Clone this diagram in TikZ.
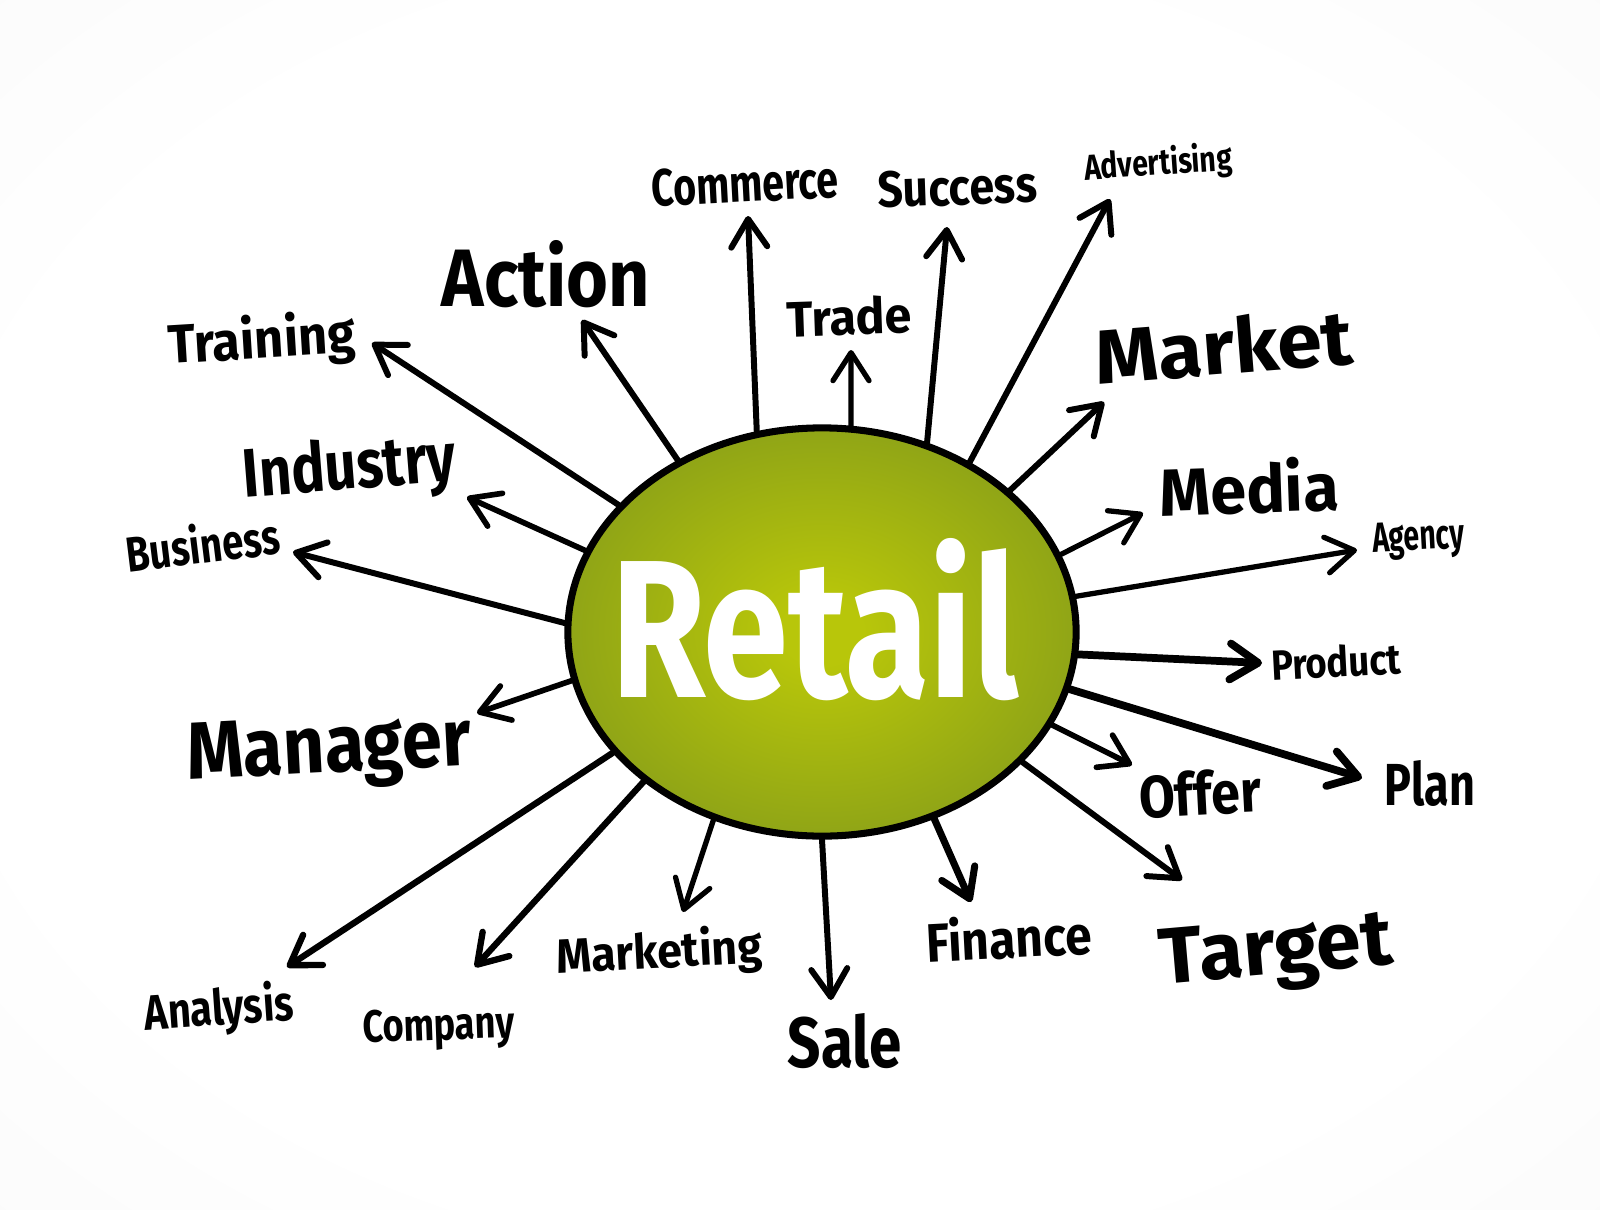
\documentclass[tikz,border=0pt]{standalone}
\usepackage{fontspec}
\setmainfont{Fira Sans}
\usepackage{graphicx}
\usetikzlibrary{arrows.meta,shapes.geometric}
\tikzset{>={Straight Barb[length=2.8mm,width=3.6mm,line cap=round,line join=round]}}
\definecolor{hubA}{RGB}{184,198,10}
\definecolor{hubB}{RGB}{138,160,24}
\definecolor{hubC}{RGB}{90,114,32}
\definecolor{paper}{RGB}{244,244,244}
\pgfdeclareradialshading{hubglow}{\pgfpoint{0bp}{0bp}}{color(0bp)=(hubA); color(4bp)=(hubA);
  color(28bp)=(hubB); color(50bp)=(hubC)}
\pgfdeclareradialshading{paperglow}{\pgfpoint{0bp}{0bp}}{color(0bp)=(white); color(26bp)=(white);
  color(55bp)=(paper); color(75bp)=(paper)}
\tikzstyle{hub}=[ellipse,draw=black,line width=2pt,shading=hubglow,
  minimum width=5.08cm,minimum height=4.08cm,inner sep=0]
\tikzstyle{word}=[anchor=base,inner sep=0,font=\bfseries]
\tikzstyle{link}=[->,line width=1.7pt,line cap=round]

\begin{document}
\begin{tikzpicture}[x=0.01cm,y=-0.01cm]
  % BACKGROUND
  \shade[shading=paperglow] (0,0) rectangle (1600,1209);
  \useasboundingbox (0,0) rectangle (1600,1209);

  % HUB
  \node[hub] (R) at (822,632) {};
  \node[word,text=white] (Rtxt) at (815,697) {\resizebox{40.7mm}{15.9mm}{Retail}};

  % WORDS
  \foreach \n/\x/\y/\w/\h/\r in {
    Commerce/746/202/18.7/3.7/3, Success/958/205/15.9/3.6/2,
    Advertising/1159/175/14.8/2.9/4, Action/546/306/20.8/6.6/0,
    Trade/850/335/12.5/3.8/2, Market/1226/374/25.8/5.8/4.5,
    Training/263/358/18.7/4.4/3.5, Industry/351/489/21.3/5.2/4.5,
    Media/1250/513/17.9/5.4/2, Business/205/563/15.4/4.0/7,
    Agency/1419/550/9.2/2.9/3, Product/1337/677/13.0/3.2/3,
    Manager/330/772/28.4/5.6/3, Offer/1201/815/12.2/4.5/3,
    Plan/1430/805/9.0/4.5/0, Analysis/220/1025/14.9/4.0/4,
    Company/439/1040/15.2/3.2/2, Marketing/660/968/20.6/3.9/3,
    Finance/1010/958/16.5/4.4/3, Target/1278/974/23.3/5.5/5,
    Sale/845/1067/11.4/5.4/0}{
    \node[word,rotate=\r] (\n) at (\x,\y) {\resizebox{\w mm}{\h mm}{\n}};
  }

  % ARROWS
  \foreach \n/\a/\tx/\ty/\lw in {
    Commerce/108/748/216/1.7, Trade/82/851/350/1.5, Success/61/947/227/1.7,
    Advertising/49/1110/199/1.7, Market/37/1104/402/1.7, Media/18/1143/513/1.5,
    Agency/8/1357/550/1.5, Product/355/1262/663/2.2, Plan/347/1362/778/2.2,
    Offer/338/1132/765/1.6, Target/327/1182/880/1.7, Finance/301/971/902/2,
    Sale/270/831/1000/1.7, Marketing/240/683/912/1.5, Company/220/475/967/1.8,
    Analysis/210/287/967/1.8, Manager/191/477/713/1.6, Business/178/293/552/1.7,
    Industry/161/467/497/1.6, Training/148/372/343/1.7, Action/130/582/320/1.7}{
    \coordinate (\n-tip) at (\tx,\ty);
    \draw[link,line width=\lw pt] (R.\a) -- (\n-tip);
  }
\end{tikzpicture}
\end{document}
